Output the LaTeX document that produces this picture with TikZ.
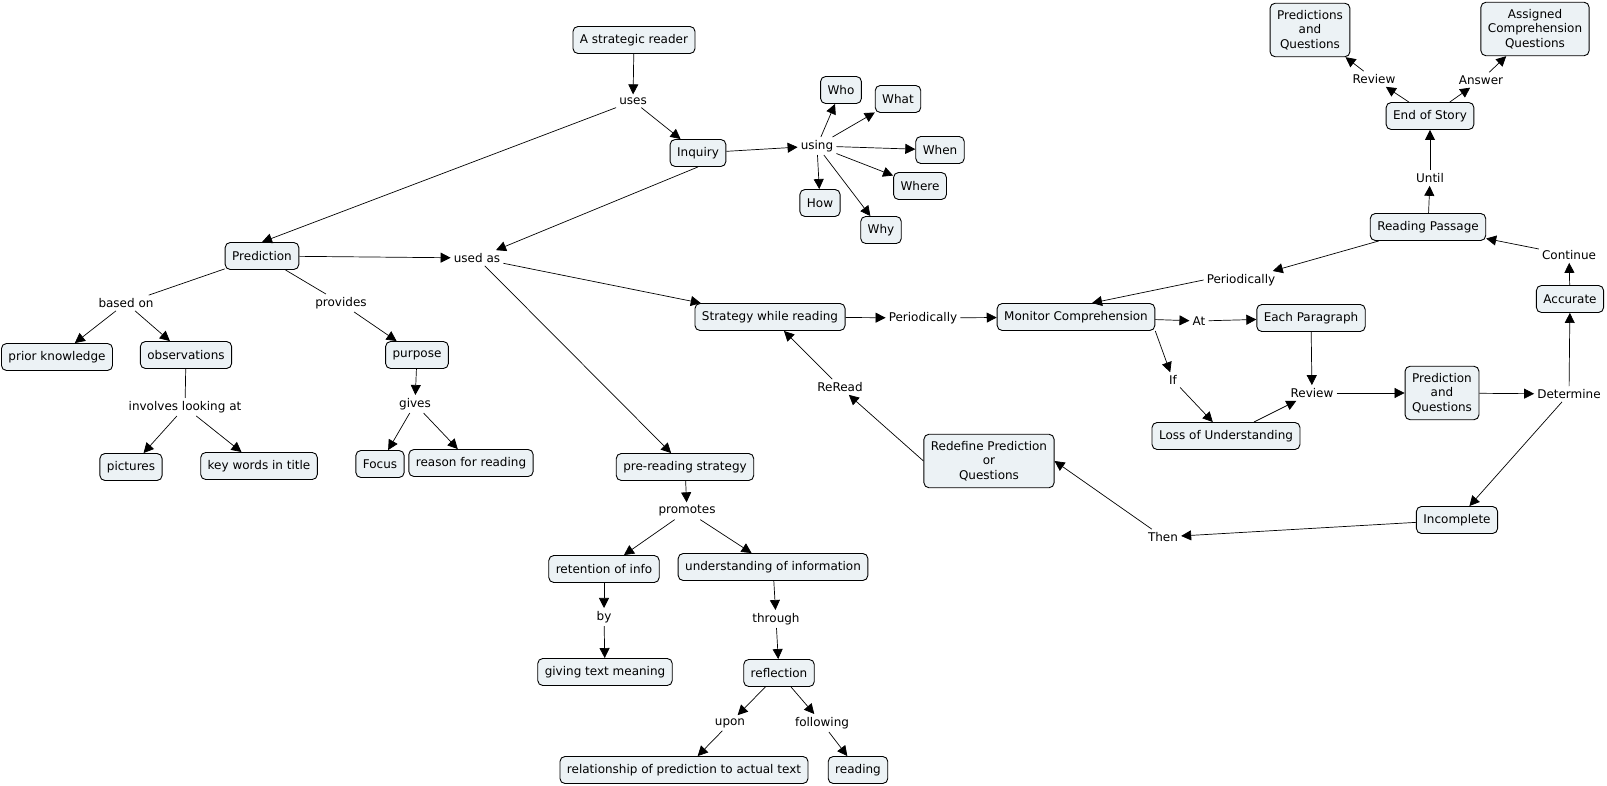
\documentclass[tikz,border=0pt]{standalone}
\usepackage{fontspec}
\setmainfont{DejaVu Sans}
\usetikzlibrary{arrows.meta}
\definecolor{boxfill}{RGB}{236,242,245}
\begin{document}
\begin{tikzpicture}[x=1pt,y=-1pt,
  cbox/.style={draw, line width=0.9pt, rounded corners=5pt, fill=boxfill, inner xsep=7pt, inner ysep=7pt, minimum height=27pt, align=center, font=\fontsize{12}{14.4}\selectfont},
  lnk/.style={inner sep=3pt, font=\fontsize{12}{14.4}\selectfont},
  arr/.style={-{Triangle[length=10pt,width=10pt]}, line width=0.7pt},
  ln/.style={line width=0.7pt}]
\useasboundingbox (0,0) rectangle (1607,786);
% concepts
\node[cbox] (sr) at (634,40) {A strategic reader};
\node[cbox] (inq) at (698,153) {Inquiry};
\node[cbox] (who) at (841,90) {Who};
\node[cbox] (what) at (898,99) {What};
\node[cbox] (when) at (940,150) {When};
\node[cbox] (where) at (920,186) {Where};
\node[cbox] (how) at (820,203) {How};
\node[cbox] (why) at (881,230) {Why};
\node[cbox] (pred) at (262,256) {Prediction};
\node[cbox] (prior) at (57,357) {prior knowledge};
\node[cbox] (obs) at (186,355) {observations};
\node[cbox] (purp) at (417,355) {purpose};
\node[cbox] (pict) at (131,467) {pictures};
\node[cbox] (kw) at (259,466) {key words in title};
\node[cbox] (focus) at (380,464) {Focus};
\node[cbox] (reason) at (471,463) {reason for reading};
\node[cbox] (pre) at (685,467) {pre-reading strategy};
\node[cbox] (ret) at (604,569) {retention of info};
\node[cbox] (und) at (773,567) {understanding of information};
\node[cbox] (give) at (605,672) {giving text meaning};
\node[cbox] (refl) at (779,673) {reflection};
\node[cbox] (rel) at (684,770) {relationship of prediction to actual text};
\node[cbox] (rd) at (858,770) {reading};
\node[cbox] (swr) at (770,317) {Strategy while reading};
\node[cbox] (mon) at (1076,317) {Monitor Comprehension};
\node[cbox] (each) at (1311,318) {Each Paragraph};
\node[cbox] (loss) at (1226,436) {Loss of Understanding};
\node[cbox] (pq) at (1442,393) {Prediction\\and\\Questions};
\node[cbox] (acc) at (1570,299) {Accurate};
\node[cbox] (inc) at (1457,520) {Incomplete};
\node[cbox] (redef) at (989,461) {Redefine Prediction\\or\\Questions};
\node[cbox] (rp) at (1428,227) {Reading Passage};
\node[cbox] (eos) at (1430,116) {End of Story};
\node[cbox] (pq2) at (1310,30) {Predictions\\and\\Questions};
\node[cbox] (acq) at (1535,29) {Assigned\\Comprehension\\Questions};
% linking phrases
\node[lnk] (uses) at (633,101) {uses};
\node[lnk] (using) at (817,146) {using};
\node[lnk] (usedas) at (477,258) {used as};
\node[lnk] (basedon) at (126,303) {based on};
\node[lnk] (provides) at (341,303) {provides};
\node[lnk] (involves) at (185,407) {involves looking at};
\node[lnk] (gives) at (415,404) {gives};
\node[lnk] (promotes) at (687,511) {promotes};
\node[lnk] (by) at (604,617) {by};
\node[lnk] (through) at (776,619) {through};
\node[lnk] (upon) at (730,723) {upon};
\node[lnk] (following) at (822,723) {following};
\node[lnk] (per1) at (923,318) {Periodically};
\node[lnk] (at) at (1199,321) {At};
\node[lnk] (if) at (1173,380) {If};
\node[lnk] (rev1) at (1312,393) {Review};
\node[lnk] (det) at (1569,394) {Determine};
\node[lnk] (cont) at (1569,255) {Continue};
\node[lnk] (then) at (1163,537) {Then};
\node[lnk] (reread) at (840,387) {ReRead};
\node[lnk] (per2) at (1241,280) {Periodically};
\node[lnk] (until) at (1430,178) {Until};
\node[lnk] (rev2) at (1374,79) {Review};
\node[lnk] (ans) at (1481,80) {Answer};
% connectors
\draw[arr] (sr) -- (uses);
\draw[arr] (uses.south west) -- (pred.north);
\draw[arr] (uses) -- (inq);
\draw[arr] (inq) -- (using);
\foreach \t in {who,what,when,where,how,why} \draw[arr] (using) -- (\t);
\draw[arr] (inq.south) -- (usedas);
\draw[arr] (pred) -- (usedas);
\draw[arr] (usedas) -- (swr);
\draw[arr] (usedas) -- (pre);
\draw[ln] (pred) -- (basedon);
\draw[arr] (basedon) -- (prior);
\draw[arr] (basedon) -- (obs);
\draw[ln] (pred) -- (provides);
\draw[arr] (provides) -- (purp);
\draw[ln] (obs) -- (involves);
\draw[arr] (involves) -- (pict);
\draw[arr] (involves) -- (kw);
\draw[arr] (purp) -- (gives);
\draw[arr] (gives) -- (focus);
\draw[arr] (gives) -- (reason);
\draw[arr] (pre) -- (promotes);
\draw[arr] (promotes) -- (ret);
\draw[arr] (promotes) -- (und);
\draw[arr] (ret) -- (by);
\draw[arr] (by) -- (give);
\draw[arr] (und) -- (through);
\draw[arr] (through) -- (refl);
\draw[arr] (refl) -- (upon);
\draw[arr] (upon) -- (rel);
\draw[arr] (refl) -- (following);
\draw[arr] (following) -- (rd);
\draw[arr] (swr) -- (per1);
\draw[arr] (per1) -- (mon);
\draw[arr] (mon) -- (at);
\draw[arr] (at) -- (each);
\draw[arr] (mon.south east) -- (if);
\draw[arr] (if) -- (loss);
\draw[arr] (each) -- (rev1);
\draw[arr] (loss) -- (rev1);
\draw[arr] (rev1) -- (pq);
\draw[arr] (pq) -- (det);
\draw[arr] (det) -- (acc);
\draw[arr] (acc) -- (cont);
\draw[arr] (cont) -- (rp);
\draw[arr] (det) -- (inc);
\draw[arr] (inc) -- (then);
\draw[arr] (then) -- (redef.east);
\draw[arr] (redef.west) -- (reread);
\draw[arr] (reread) -- (swr);
\draw[arr] (rp) -- (per2);
\draw[arr] (per2.west) -- ([xshift=16pt]mon.north);
\draw[arr] (rp) -- (until);
\draw[arr] (until) -- (eos);
\draw[arr] (eos) -- (rev2);
\draw[arr] (rev2) -- (pq2);
\draw[arr] (eos) -- (ans);
\draw[arr] (ans) -- (acq);
\end{tikzpicture}
\end{document}
